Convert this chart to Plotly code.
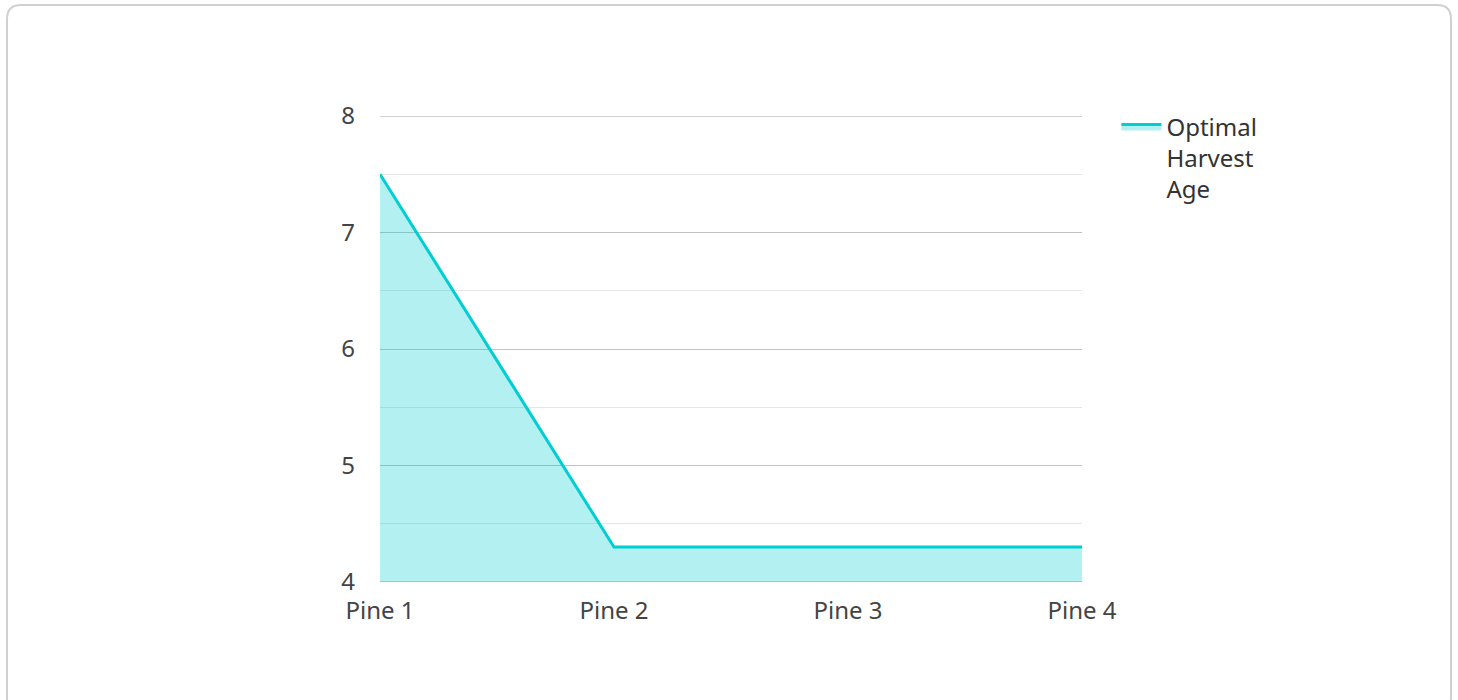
import plotly.graph_objects as go

# Data
trees = ["Pine 1", "Pine 2", "Pine 3", "Pine 4"]
harvest_age = [7.5, 4.3, 4.3, 4.3]
series_name = "Optimal<br>Harvest<br>Age"

W, H = 1458, 700
L, R, T, B = 380, 376, 116, 118
pw, ph = W - L - R, H - T - B


def px(x):
    return (x - L) / pw


def py(y):
    return 1 - (y - T) / ph


def rounded_box(x0, y0, x1, y1, r):
    return (
        f"M {px(x0 + r)},{py(y0)} L {px(x1 - r)},{py(y0)} "
        f"Q {px(x1)},{py(y0)} {px(x1)},{py(y0 + r)} "
        f"L {px(x1)},{py(y1 - r)} Q {px(x1)},{py(y1)} {px(x1 - r)},{py(y1)} "
        f"L {px(x0 + r)},{py(y1)} Q {px(x0)},{py(y1)} {px(x0)},{py(y1 - r)} "
        f"L {px(x0)},{py(y0 + r)} Q {px(x0)},{py(y0)} {px(x0 + r)},{py(y0)} Z"
    )


fig = go.Figure()
fig.add_trace(go.Scatter(
    x=trees, y=harvest_age, name=series_name, mode="lines",
    line=dict(color="#00CED1", width=3),
    fill="tozeroy", fillcolor="rgba(0,206,209,0.3)",
))

fig.update_layout(
    width=W, height=H,
    margin=dict(l=L, r=R, t=T, b=B),
    paper_bgcolor="white", plot_bgcolor="white",
    font=dict(family="Noto Sans", size=24, color="#444444"),
    showlegend=True,
    legend=dict(x=1.049, y=1.025, xanchor="left", yanchor="top",
                valign="top", itemwidth=40,
                font=dict(size=24, color="#333333"),
                bgcolor="rgba(0,0,0,0)"),
    xaxis=dict(range=[0, 3], showgrid=False, showline=False, zeroline=False,
               ticks="", ticklabelstandoff=12),
    yaxis=dict(range=[4, 8], dtick=1, showgrid=True, gridcolor="#c2c2c2",
               gridwidth=1, zeroline=False, showline=False, ticks="",
               ticklabelstandoff=24,
               minor=dict(dtick=0.5, showgrid=True, gridcolor="#e6e6e6",
                          gridwidth=1)),
    shapes=[
        dict(type="line", xref="paper", yref="y", x0=0, x1=1, y0=8, y1=8,
             line=dict(color="#c2c2c2", width=1.5), layer="above"),
        dict(type="line", xref="paper", yref="y", x0=0, x1=1, y0=4, y1=4,
             line=dict(color="#8fcfd0", width=2), layer="above"),
        dict(type="path", xref="paper", yref="paper",
             path=rounded_box(7, 5, 1451, 712, 14),
             line=dict(color="#d0d0d0", width=2), layer="below"),
    ],
)

fig.write_html("out.html")
